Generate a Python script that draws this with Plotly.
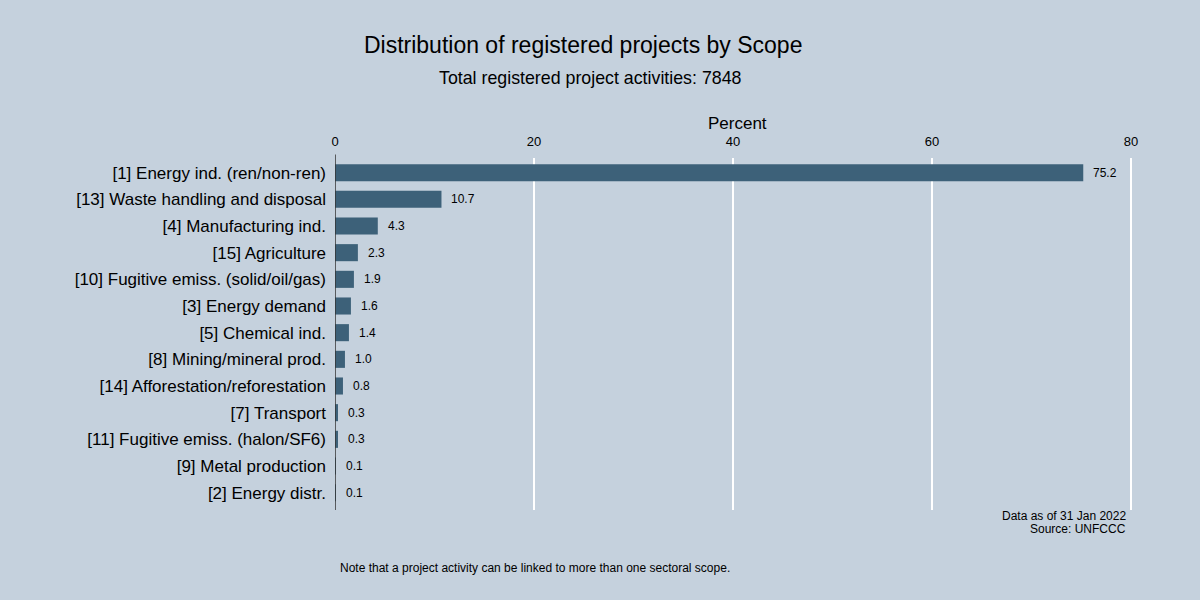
import plotly.graph_objects as go

categories = [
    "[1] Energy ind. (ren/non-ren)",
    "[13] Waste handling and disposal",
    "[4] Manufacturing ind.",
    "[15] Agriculture",
    "[10] Fugitive emiss. (solid/oil/gas)",
    "[3] Energy demand",
    "[5] Chemical ind.",
    "[8] Mining/mineral prod.",
    "[14] Afforestation/reforestation",
    "[7] Transport",
    "[11] Fugitive emiss. (halon/SF6)",
    "[9] Metal production",
    "[2] Energy distr.",
]
values = [75.2, 10.7, 4.3, 2.3, 1.9, 1.6, 1.4, 1.0, 0.8, 0.3, 0.3, 0.1, 0.1]
tick_vals = [0, 20, 40, 60, 80]

BG = "#c5d1dd"
BAR = "#3d6179"
FONT = "Liberation Sans, Arial, sans-serif"
NARROW = "Liberation Sans Narrow, Arial Narrow, Liberation Sans, sans-serif"

fig = go.Figure()
fig.add_trace(go.Bar(
    x=values, y=categories, orientation="h",
    marker=dict(color=BAR, line=dict(width=0)),
    width=0.64, hoverinfo="x+y",
))

for c, v in zip(categories, values):
    fig.add_annotation(x=v, y=c, text=f"{v:.1f}", showarrow=False,
                       xanchor="left", xshift=8,
                       font=dict(family=NARROW, size=12, color="#000"))

fig.add_annotation(xref="paper", yref="paper", x=0.994, y=-0.017, yanchor="middle",
                   xanchor="right", showarrow=False, text="Data as of 31 Jan 2022",
                   font=dict(family=FONT, size=12, color="#000"))
fig.add_annotation(xref="paper", yref="paper", x=0.994, y=-0.054, yanchor="middle",
                   xanchor="right", showarrow=False, text="Source: UNFCCC",
                   font=dict(family=FONT, size=12, color="#000"))
fig.add_annotation(xref="paper", yref="paper", x=0.0, xshift=3, y=-0.165, yanchor="middle",
                   xanchor="left", showarrow=False,
                   text="Note that a project activity can be linked to more than one sectoral scope.",
                   font=dict(family=FONT, size=12, color="#000"))
fig.add_annotation(xref="paper", yref="paper", x=0.32, y=1.227, yanchor="middle",
                   xanchor="center", showarrow=False,
                   text="Total registered project activities: 7848",
                   font=dict(family=FONT, size=17.8, color="#000"))
fig.add_annotation(xref="paper", yref="paper", x=0.505, y=1.099, yanchor="middle",
                   xanchor="center", showarrow=False, text="Percent",
                   font=dict(family=FONT, size=17, color="#000"))

fig.update_layout(
    width=1200, height=600,
    paper_bgcolor=BG, plot_bgcolor=BG,
    margin=dict(l=335, r=67, t=158, b=90),
    showlegend=False,
    font=dict(family=FONT, color="#000"),
    title=dict(text="Distribution of registered projects by Scope",
               x=0.486, xanchor="center", y=0.925, yanchor="middle",
               font=dict(family=FONT, size=23, color="#000")),
    xaxis=dict(side="top", range=[0, 80.2], tickvals=tick_vals,
               showgrid=True, gridcolor="#ffffff", gridwidth=2,
               zeroline=False, showline=False, ticks="", ticklabelstandoff=8,
               tickfont=dict(family=NARROW, size=13)),
    yaxis=dict(range=[12.65, -0.55], showgrid=False, zeroline=False,
               showline=False, ticks="", ticklabelstandoff=8,
               tickfont=dict(family=FONT, size=17)),
)
fig.add_shape(type="line", xref="x", yref="paper", x0=0, x1=0, y0=0, y1=1.01,
              line=dict(color="#333333", width=1.5))

fig.write_html("out.html")
